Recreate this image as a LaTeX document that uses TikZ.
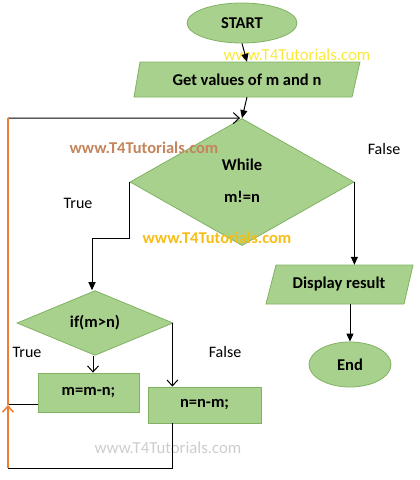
\documentclass[tikz,border=0pt]{standalone}
\usepackage{fontspec}
\setmainfont{Carlito}
\usetikzlibrary{shapes.geometric,arrows.meta}
\definecolor{boxfill}{RGB}{169,209,142}
\definecolor{boxdraw}{RGB}{128,178,98}
\definecolor{loopor}{RGB}{237,125,49}
\definecolor{wmyellow}{RGB}{250,232,60}
\definecolor{wmbrown}{RGB}{196,132,92}
\definecolor{wmgold}{RGB}{246,190,22}
\definecolor{wmgray}{RGB}{205,205,205}
\tikzset{
  shp/.style={fill=boxfill,draw=boxdraw,line width=0.8pt},
  txt/.style={font=\fontsize{16.5}{18}\selectfont\bfseries},
  lbl/.style={font=\fontsize{16}{18}\selectfont},
  wm/.style={font=\fontsize{16.8}{18}\selectfont},
  wmb/.style={font=\fontsize{16.5}{18}\selectfont\bfseries},
  term/.style={shp,ellipse,inner sep=0pt,txt},
  proc/.style={shp,rectangle,inner sep=0pt,txt},
  dec/.style={shp,diamond,inner sep=0pt,txt},
  io/.style={rectangle,inner sep=0pt,txt},
  con/.style={line width=1pt},
  fa/.style={-{Triangle[length=8pt,width=7pt]}},
  oa/.style={-{Straight Barb[length=6pt,width=11pt]}},
}
\begin{document}
\begin{tikzpicture}[x=1pt,y=-1pt]
\useasboundingbox (0,0) rectangle (420,480);
% shapes
\node[term,minimum width=110,minimum height=40] (start) at (242,23) {START};
\path[shp] (134,97) -- (140,62) -- (360,62) -- (352,97) -- cycle;
\node[io,minimum width=220,minimum height=35] (get) at (247,79.5) {Get values of m and n};
\node[dec,minimum width=224,minimum height=127] (while) at (242,182) {};
\node[txt] (whiletxt) at (242,165) {While};
\node[txt] (condtxt) at (242,197) {m!=n};
\path[shp] (266,304) -- (276,265) -- (413,265) -- (404,304) -- cycle;
\node[io,minimum width=140,minimum height=39] (disp) at (339,284.5) {Display result};
\node[term,minimum width=82,minimum height=45] (end) at (350,364.5) {End};
\node[dec,minimum width=156,minimum height=58] (ifd) at (95,323) {if(m>n)};
\node[proc,minimum width=101,minimum height=39] (mbox) at (88.5,392.5) {m=m-n;};
\node[proc,minimum width=113,minimum height=36] (nbox) at (204.5,405) {n=n-m;};
% labels
\node[lbl] (f1) at (384,149) {False};
\node[lbl] (t1) at (78,203) {True};
\node[lbl] (t2) at (27,352) {True};
\node[lbl] (f2) at (225,352) {False};
% watermarks
\node[wm,text=wmyellow] (w1) at (297,55) {www.T4Tutorials.com};
\node[wmb,text=wmbrown] (w2) at (144,148) {www.T4Tutorials.com};
\node[wmb,text=wmgold] (w3) at (217,238) {www.T4Tutorials.com};
\node[wm,text=wmgray] (w4) at (168,448) {www.T4Tutorials.com};
% loop coordinates
\coordinate (tl) at (8,118);
\coordinate (bl) at (8,468);
\coordinate (ml) at (8,404);
\coordinate (ah) at (8,405);
\coordinate (wl) at (92,238);
% connectors
\draw[con,fa] (start.south) -- (get.north);
\draw[con,fa] (get.south) -- (while.north);
\draw[con,oa] (tl) -- ([xshift=-2]while.north);
\draw[con,fa] (while.west) |- (wl) -- (wl |- ifd.north);
\draw[con,fa] (while.east) -- (while.east |- disp.north);
\draw[con,fa] (end.north |- disp.south) -- (end.north);
\draw[con,oa] ([xshift=-2]ifd.south) -- ([xshift=-2]ifd.south |- mbox.north);
\draw[con,oa] ([xshift=-1]ifd.east) -- ([xshift=-1]ifd.east |- nbox.north);
\draw[con] ([xshift=-1]ifd.east |- nbox.south) -- ([xshift=-1]ifd.east |- bl) -- (bl);
\draw[con] (ml) -- (ml -| mbox.west);
\draw[line width=1.6pt,loopor,oa] (bl) -- (ah);
\draw[line width=1.6pt,loopor] (ah) -- (tl);
\end{tikzpicture}
\end{document}
